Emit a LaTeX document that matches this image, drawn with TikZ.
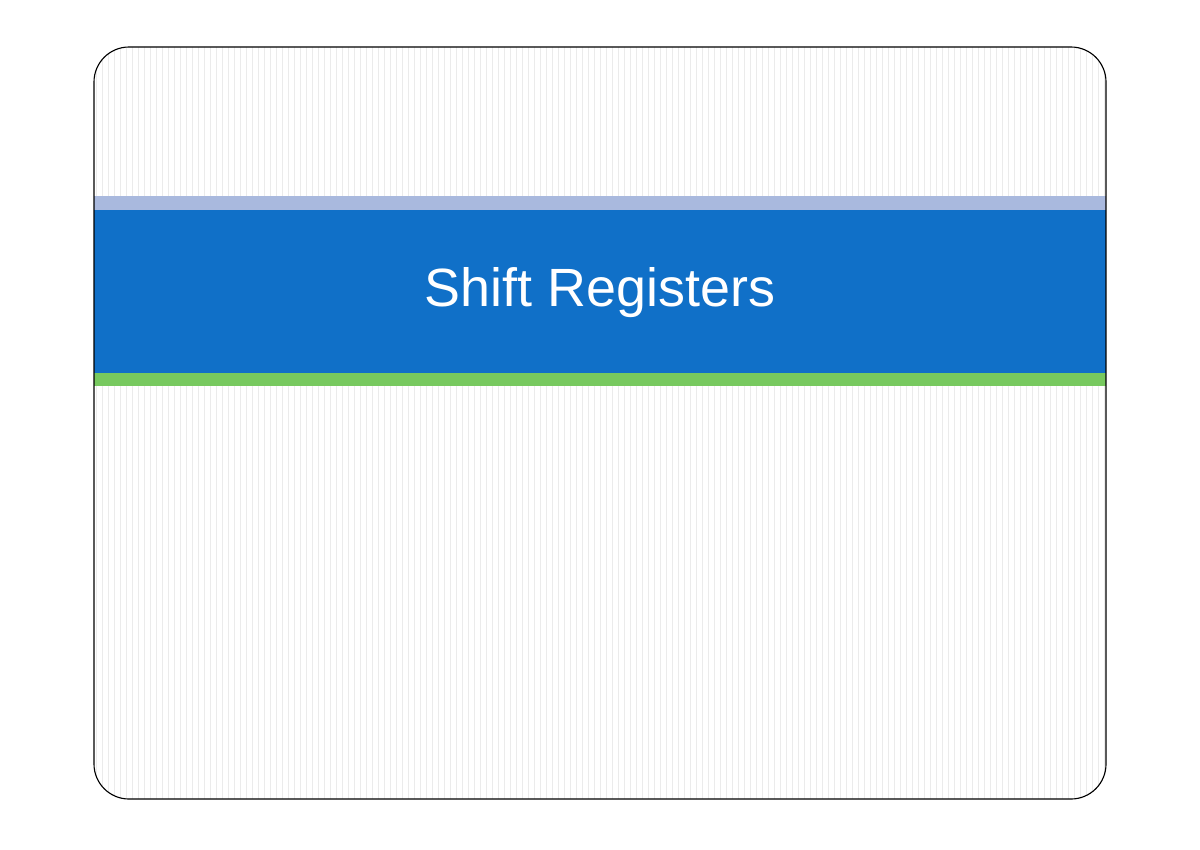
\documentclass[tikz,border=0pt]{standalone}
\usepackage{fontspec}
\setmainfont{Liberation Sans}
\definecolor{lightband}{HTML}{A9B9DE}
\definecolor{mainblue}{HTML}{1070C8}
\definecolor{greenband}{HTML}{77C95F}
\begin{document}
\begin{tikzpicture}[x=0.025cm,y=-0.025cm]
\useasboundingbox (0,0) rectangle (1200,849);
\fill[white] (0,0) rectangle (1200,849);
\begin{scope}
\clip[rounded corners=35*0.025cm] (94,47) rectangle (1106,799);
\foreach \i in {0,...,168} {\draw[black!8,line width=0.3pt] (96+\i*6,47) -- (96+\i*6,799);}
\fill[lightband] (94,196) rectangle (1106,210);
\fill[mainblue] (94,210) rectangle (1106,373);
\fill[greenband] (94,373) rectangle (1106,386);
\end{scope}
\draw[black,line width=0.8pt,rounded corners=35*0.025cm] (94,47) rectangle (1106,799);
\node[text=white,font=\fontsize{38.3}{42}\selectfont] (title) at (600,293) {Shift Registers};
\end{tikzpicture}
\end{document}
